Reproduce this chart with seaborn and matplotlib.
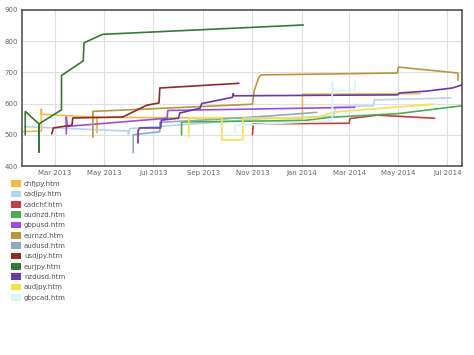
import pandas as pd
import numpy as np
import seaborn as sns
import matplotlib.pyplot as plt
import matplotlib.dates as mdates
from matplotlib.patches import Patch

# series data (date, value)
chfjpy_dates = ['2013-01-19', '2013-02-12', '2013-02-12', '2013-02-12', '2013-04-22', '2013-04-22',
                '2013-04-22', '2013-09-20', '2014-01-02', '2014-01-02', '2014-05-28']
chfjpy_values = [510, 512, 582, 566, 556, 508, 556, 554, 552, 630, 632]

cadjpy_dates = ['2013-01-22', '2013-05-31', '2013-05-31', '2013-06-02', '2013-08-20', '2013-10-10',
                '2013-11-15', '2014-02-10', '2014-02-12', '2014-03-31', '2014-04-01', '2014-07-05']
cadjpy_values = [526, 512, 502, 520, 535, 545, 552, 560, 590, 593, 612, 618]

cadchf_dates = ['2013-11-01', '2013-11-02', '2014-03-01', '2014-03-02', '2014-04-05', '2014-06-15']
cadchf_values = [500, 535, 537, 552, 563, 553]

audnzd_dates = ['2013-08-05', '2013-08-05', '2014-01-05', '2014-02-05', '2014-05-01', '2014-07-19']
audnzd_values = [500, 541, 546, 556, 568, 593]

gbpusd_dates = ['2013-03-15', '2013-03-15', '2013-03-16', '2013-07-18', '2013-07-19', '2014-03-08']
gbpusd_values = [503, 557, 527, 553, 578, 588]

eurnzd_dates = ['2013-04-17', '2013-04-17', '2013-11-01', '2013-11-03', '2013-11-09', '2013-11-12',
                '2014-04-30', '2014-05-01', '2014-07-14', '2014-07-14']
eurnzd_values = [492, 575, 598, 640, 685, 692, 698, 717, 698, 675]

audusd_dates = ['2013-06-06', '2013-06-06', '2013-07-09', '2013-07-09', '2013-09-20', '2013-11-20', '2014-01-20']
audusd_values = [443, 500, 510, 540, 550, 560, 572]

usdjpy_dates = ['2013-02-25', '2013-02-27', '2013-03-22', '2013-03-23', '2013-05-24', '2013-06-23',
                '2013-07-08', '2013-07-09', '2013-10-15']
usdjpy_values = [503, 522, 531, 554, 557, 595, 602, 650, 665]

eurjpy_dates = ['2013-01-23', '2013-01-23', '2013-02-09', '2013-02-09', '2013-02-09', '2013-03-09',
                '2013-03-09', '2013-04-05', '2013-04-06', '2013-04-29', '2014-01-03']
eurjpy_values = [500, 575, 535, 445, 535, 580, 690, 737, 795, 822, 852]

nzdusd_dates = ['2013-06-12', '2013-06-12', '2013-06-14', '2013-07-10', '2013-07-11', '2013-08-01',
                '2013-08-03', '2013-08-28', '2013-08-30', '2013-10-07', '2013-10-08', '2013-10-09',
                '2014-04-30', '2014-05-02', '2014-06-05', '2014-07-07', '2014-07-19']
nzdusd_values = [474, 514, 522, 522, 547, 553, 570, 585, 600, 620, 632, 625, 628, 634, 640, 650, 660]

audjpy_dates = ['2013-08-14', '2013-08-14', '2013-09-24', '2013-09-24', '2013-10-20', '2013-10-20',
                '2014-01-20', '2014-02-10', '2014-06-13']
audjpy_values = [495, 555, 555, 484, 484, 553, 555, 573, 598]

gbpcad_dates = ['2013-10-10', '2013-10-10', '2014-02-08', '2014-02-08', '2014-02-09', '2014-03-08', '2014-03-08']
gbpcad_values = [500, 530, 545, 670, 640, 645, 675]

files = ['chfjpy.htm', 'cadjpy.htm', 'cadchf.htm', 'audnzd.htm', 'gbpusd.htm', 'eurnzd.htm',
         'audusd.htm', 'usdjpy.htm', 'eurjpy.htm', 'nzdusd.htm', 'audjpy.htm', 'gbpcad.htm']
colors = ['#f0bd45', '#b7d3f2', '#cc3b3b', '#4caf50', '#9b4de8', '#b8973a',
          '#8fa9c2', '#8e2b2b', '#367a36', '#6a35b8', '#f7e04a', '#d6f5f5']

series = [(chfjpy_dates, chfjpy_values), (cadjpy_dates, cadjpy_values), (cadchf_dates, cadchf_values),
          (audnzd_dates, audnzd_values), (gbpusd_dates, gbpusd_values), (eurnzd_dates, eurnzd_values),
          (audusd_dates, audusd_values), (usdjpy_dates, usdjpy_values), (eurjpy_dates, eurjpy_values),
          (nzdusd_dates, nzdusd_values), (audjpy_dates, audjpy_values), (gbpcad_dates, gbpcad_values)]

frames = []
for name, (d, v) in zip(files, series):
    frames.append(pd.DataFrame({'date': pd.to_datetime(d), 'value': v, 'file': name}))
df = pd.concat(frames, ignore_index=True)

sns.set_style('white')
plt.rcParams['font.family'] = ['DejaVu Sans']

fig = plt.figure(figsize=(4.74, 3.55), dpi=100)
ax = fig.add_axes([22 / 474, 1 - 166 / 355, 440 / 474, 156 / 355])

sns.lineplot(data=df, x='date', y='value', hue='file', hue_order=files,
             palette=dict(zip(files, colors)), sort=False, estimator=None,
             linewidth=1.2, legend=False, ax=ax)

ax.set_xlim(pd.Timestamp('2013-01-19'), pd.Timestamp('2014-07-19'))
ax.set_ylim(400, 900)
ax.set_yticks([400, 500, 600, 700, 800, 900])
ax.xaxis.set_major_locator(mdates.MonthLocator(bymonth=[1, 3, 5, 7, 9, 11]))
ax.xaxis.set_major_formatter(mdates.DateFormatter('%b %Y'))
ax.grid(True, color='#e0e0e0', linewidth=0.8)
ax.set_axisbelow(True)
ax.set_xlabel('')
ax.set_ylabel('')
ax.tick_params(axis='both', labelsize=5, colors='#666666', length=0, pad=3)
for s in ax.spines.values():
    s.set_color('#555555')
    s.set_linewidth(1.2)

handles = [Patch(facecolor=c, edgecolor='none') for c in colors]
fig.legend(handles, files, loc='upper left', bbox_to_anchor=(8 / 474, 1 - 177 / 355),
           frameon=False, fontsize=5, handlelength=1.3, handleheight=1.1,
           handletextpad=0.5, labelspacing=0.52, borderpad=0, labelcolor='#555555')

fig.savefig('out.png', dpi=100)
